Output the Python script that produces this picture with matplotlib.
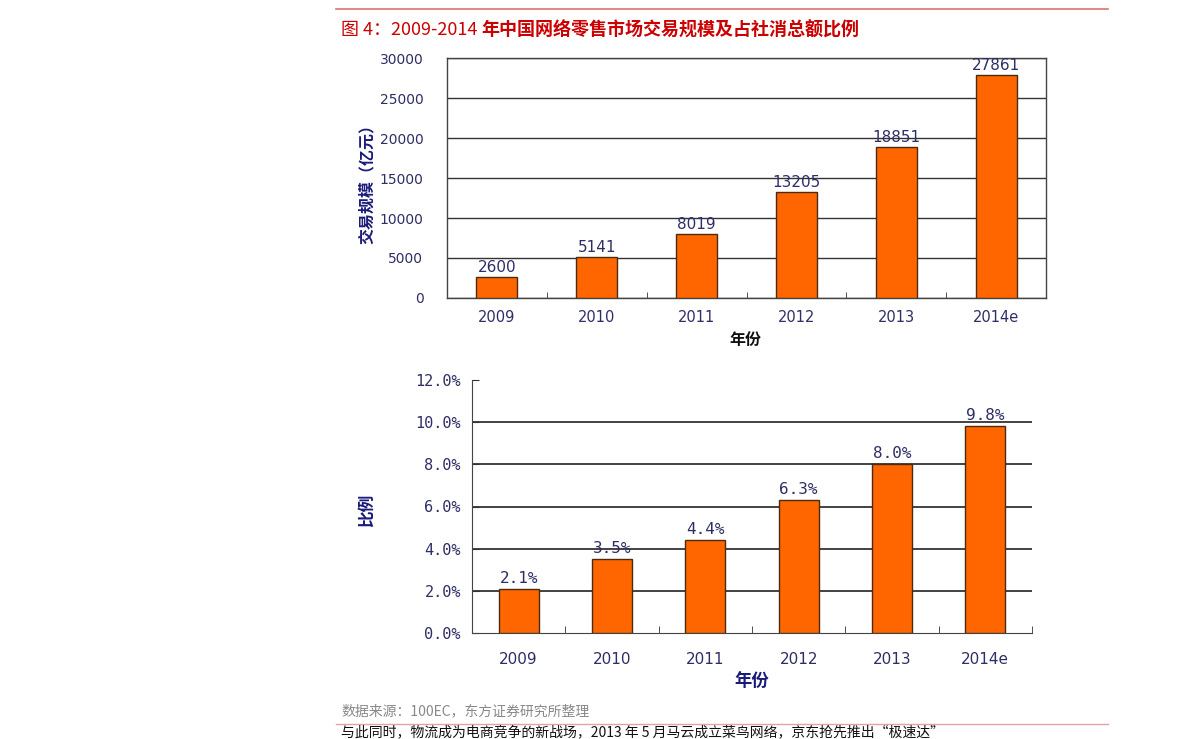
import matplotlib
matplotlib.use("Agg")
import matplotlib.pyplot as plt
from matplotlib.lines import Line2D

plt.rcParams['font.family'] = ['DejaVu Sans', 'Noto Sans CJK SC']

## chart data ##
years = ["2009", "2010", "2011", "2012", "2013", "2014e"]
volume = [2600, 5141, 8019, 13205, 18851, 27861]        # 交易规模 (亿元)
share = [2.1, 3.5, 4.4, 6.3, 8.0, 9.8]                   # 占社消总额比例 (%)
volume_ticks = [0, 5000, 10000, 15000, 20000, 25000, 30000]
share_ticks = [0, 2, 4, 6, 8, 10, 12]

title_a = "图 4：2009-2014 "
title_b = "年中国网络零售市场交易规模及占社消总额比例"
source = "数据来源：100EC，东方证券研究所整理"
body = "与此同时，物流成为电商竞争的新战场，2013 年 5 月马云成立菜鸟网络，京东抢先推出“极速达”"

BAR = "#FF6600"
NAVY = "#2E2E66"
LABEL_NAVY = "#1A1A7A"
CJK = ['Noto Sans CJK SC', 'DejaVu Sans']
MONO = ['DejaVu Sans Mono', 'Noto Sans CJK SC']
W, H = 1191, 739


def fx(px):
    return px / W


def fy(py):
    return 1 - py / H


fig = plt.figure(figsize=(W / 100, H / 100), dpi=100)
fig.patch.set_facecolor("white")

## page decoration ##
fig.add_artist(Line2D([fx(336), fx(1108)], [fy(9), fy(9)], color="#E07070", lw=1.2))
fig.add_artist(Line2D([fx(336), fx(1108)], [fy(724), fy(724)], color="#E8A0A0", lw=1.0))
t1 = fig.text(fx(341), fy(30), title_a, color="#CC0000", fontsize=13, va="center",
              ha="left", family=CJK)
renderer = fig.canvas.get_renderer()
bb = t1.get_window_extent(renderer)
fig.text(bb.x1 / fig.bbox.width, fy(30), title_b, color="#CC0000", fontsize=13,
         fontweight="bold", va="center", ha="left", family=CJK)
fig.text(fx(341), fy(711), source, color="#888888", fontsize=10, va="center",
         ha="left", family=CJK)
fig.text(fx(341), fy(739), body, color="#111111", fontsize=10, va="bottom",
         ha="left", family=CJK)

x = list(range(len(years)))

## top chart: transaction volume ##
ax1 = fig.add_axes([fx(447), fy(298), fx(1046) - fx(447), (298 - 58) / H])
ax1.bar(x, volume, width=0.41, color=BAR, edgecolor="#4A2A10", linewidth=1.0, zorder=3)
ax1.set_xlim(-0.5, 5.5)
ax1.set_ylim(0, 30000)
ax1.set_yticks(volume_ticks)
ax1.yaxis.grid(True, color="#333333", lw=1.0, zorder=0)
ax1.set_xticks(x)
ax1.set_xticklabels(years)
ax1.set_xticks([i + 0.5 for i in x[:-1]], minor=True)
ax1.tick_params(axis="x", which="major", length=0, pad=9, labelsize=10.5, labelcolor=NAVY)
ax1.tick_params(axis="x", which="minor", direction="in", length=4, color="#333333")
ax1.tick_params(axis="y", length=0, pad=17, labelsize=10, labelcolor=NAVY)
for s in ax1.spines.values():
    s.set_color("#444444")
    s.set_linewidth(1.0)
for xi, v in zip(x, volume):
    ax1.text(xi, v + 250, f"{v}", ha="center", va="bottom", fontsize=11, color=NAVY)
fig.text(fx(367), fy(180), "交易规模（亿元）", rotation=90, ha="center", va="center",
         fontsize=11.5, fontweight="bold", color=LABEL_NAVY, family=CJK)
fig.text(fx(745), fy(340), "年份", ha="center", va="center", fontsize=11.5,
         fontweight="bold", color="#111111", family=CJK)

## bottom chart: share of total retail sales ##
ax2 = fig.add_axes([fx(472), fy(633), fx(1032) - fx(472), (633 - 380) / H])
ax2.bar(x, share, width=0.43, color=BAR, edgecolor="#4A2A10", linewidth=1.0, zorder=3)
ax2.set_xlim(-0.5, 5.5)
ax2.set_ylim(0, 12)
ax2.set_yticks(share_ticks)
ax2.set_yticklabels([f"{t:.1f}%" for t in share_ticks], family=MONO)
for t in share_ticks[1:-1]:
    ax2.axhline(t, color="#222222", lw=1.2, zorder=0)
ax2.set_xticks(x)
ax2.set_xticklabels(years)
ax2.set_xticks([i + 0.5 for i in range(len(years))], minor=True)
ax2.tick_params(axis="x", which="major", length=0, pad=14, labelsize=11, labelcolor=NAVY)
ax2.tick_params(axis="x", which="minor", direction="in", length=5, color="#333333")
ax2.tick_params(axis="y", direction="in", length=5, pad=8, labelsize=11,
                labelcolor=NAVY, color="#333333")
ax2.spines["top"].set_visible(False)
ax2.spines["right"].set_visible(False)
ax2.spines["left"].set_color("#444444")
ax2.spines["bottom"].set_color("#444444")
for xi, v in zip(x, share):
    ax2.text(xi, v + 0.15, f"{v:.1f}%", ha="center", va="bottom", fontsize=11.5,
             color=NAVY, family=MONO)
fig.text(fx(367), fy(510), "比例", rotation=90, ha="center", va="center",
         fontsize=12, fontweight="bold", color=LABEL_NAVY, family=CJK)
fig.text(fx(752), fy(682), "年份", ha="center", va="center", fontsize=12.5,
         fontweight="bold", color=LABEL_NAVY, family=CJK)

fig.savefig("out.png", dpi=100)
